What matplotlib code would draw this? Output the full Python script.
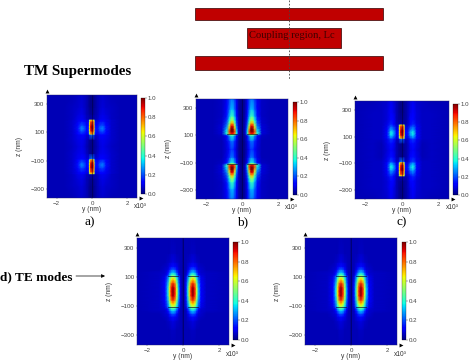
#!/usr/bin/env python3

import numpy as np
import matplotlib
matplotlib.use("Agg")
import matplotlib.pyplot as plt
from matplotlib.patches import Rectangle

W, H = 474, 361

# field maps, one quarter of each panel (y >= 0, z >= 0)
y_tm = [0, .08, .14, .18, .3, .45, .6, .8, 1.1, 1.6, 2.55]
z_tm = [0, 50, 84, 90, 110, 130, 150, 180, 190, 196, 230, 280, 365]
field_a = [
    [.01, .01, .02, .03, .05, .08, .09, .08, .06, .05, .05],
    [.01, .02, .03, .04, .06, .09, .10, .09, .07, .05, .05],
    [.25, .22, .20, .08, .08, .11, .12, .10, .07, .05, .05],
    [.75, .70, .50, .12, .10, .14, .15, .11, .07, .05, .05],
    [.95, .85, .62, .16, .12, .18, .21, .13, .07, .05, .05],
    [1.0, .90, .65, .16, .13, .22, .26, .14, .07, .05, .05],
    [1.0, .90, .65, .14, .12, .18, .20, .13, .07, .05, .05],
    [.85, .80, .60, .10, .09, .13, .14, .10, .07, .05, .05],
    [.70, .65, .50, .08, .08, .11, .12, .10, .07, .05, .05],
    [.04, .04, .04, .05, .06, .09, .10, .09, .06, .05, .05],
    [.02, .02, .03, .04, .05, .08, .09, .08, .06, .05, .05],
    [.01, .01, .02, .03, .05, .07, .08, .07, .06, .05, .05],
    [.01, .01, .02, .03, .05, .06, .07, .06, .05, .05, .05],
]
field_c = [
    [.01, .01, .02, .03, .05, .09, .11, .08, .05, .06, .05],
    [.01, .02, .03, .03, .05, .11, .14, .09, .05, .06, .05],
    [.25, .22, .18, .06, .07, .15, .19, .10, .06, .06, .05],
    [.75, .70, .50, .10, .08, .18, .24, .11, .06, .06, .05],
    [.95, .85, .62, .14, .10, .26, .34, .13, .06, .06, .05],
    [1.0, .90, .65, .14, .11, .30, .38, .13, .06, .06, .05],
    [1.0, .90, .65, .12, .10, .24, .30, .12, .06, .06, .05],
    [.85, .80, .60, .08, .07, .16, .20, .10, .06, .06, .05],
    [.70, .65, .50, .06, .07, .14, .18, .10, .06, .06, .05],
    [.04, .04, .04, .04, .06, .13, .16, .09, .06, .06, .05],
    [.02, .02, .03, .03, .05, .11, .13, .08, .06, .06, .05],
    [.01, .01, .02, .03, .05, .09, .11, .08, .06, .06, .05],
    [.01, .01, .02, .03, .05, .08, .10, .07, .06, .05, .05],
]

y_b = [0, .1, .2, .3, .4, .5, .6, .7, .85, 1.1, 1.6, 2.55]
z_b = [0, 60, 100, 108, 115, 130, 150, 170, 190, 210, 240, 290, 365]
field_b = [
    [.00, .01, .03, .07, .13, .17, .17, .13, .08, .05, .05, .05],
    [.00, .01, .04, .09, .17, .24, .24, .17, .09, .05, .05, .05],
    [.01, .02, .05, .13, .28, .38, .38, .28, .13, .06, .05, .05],
    [.01, .02, .06, .28, .58, .66, .66, .58, .28, .07, .05, .05],
    [.01, .03, .08, .40, .78, .90, .90, .78, .40, .08, .05, .05],
    [.01, .03, .08, .36, .84, 1.0, 1.0, .84, .36, .08, .05, .05],
    [.01, .03, .08, .30, .72, 1.0, 1.0, .72, .30, .08, .05, .05],
    [.01, .03, .07, .24, .58, .90, .90, .58, .24, .08, .05, .05],
    [.01, .03, .07, .20, .46, .72, .72, .46, .20, .07, .05, .05],
    [.01, .02, .06, .17, .38, .56, .56, .38, .17, .07, .05, .05],
    [.01, .02, .06, .14, .30, .42, .42, .30, .14, .06, .05, .05],
    [.01, .02, .05, .12, .23, .31, .31, .23, .12, .06, .05, .05],
    [.01, .02, .05, .10, .18, .23, .23, .18, .10, .06, .05, .05],
]

y_te = [0, .06, .15, .25, .35, .45, .55, .65, .75, .85, 1, 1.3, 2.55]
z_te = [0, 30, 60, 80, 95, 105, 115, 130, 150, 170, 200, 260, 365]
field_d = [
    [.02, .05, .10, .32, .62, .90, 1.0, .90, .62, .32, .12, .06, .05],
    [.02, .05, .10, .31, .60, .88, .98, .88, .60, .31, .12, .06, .05],
    [.02, .05, .09, .27, .52, .77, .85, .77, .52, .27, .11, .06, .05],
    [.02, .05, .08, .24, .45, .65, .72, .65, .45, .24, .10, .06, .05],
    [.02, .05, .08, .22, .40, .56, .62, .56, .40, .22, .10, .06, .05],
    [.02, .05, .07, .20, .35, .50, .55, .50, .35, .20, .09, .06, .05],
    [.02, .05, .06, .14, .28, .41, .45, .41, .28, .14, .08, .06, .05],
    [.02, .05, .05, .11, .21, .30, .33, .30, .21, .11, .07, .06, .05],
    [.02, .05, .05, .08, .14, .20, .22, .20, .14, .08, .07, .05, .05],
    [.02, .05, .05, .07, .10, .13, .14, .13, .10, .07, .06, .05, .05],
    [.02, .05, .05, .06, .07, .08, .09, .08, .07, .06, .05, .05, .05],
    [.02, .05, .05, .05, .05, .06, .06, .06, .05, .05, .05, .05, .05],
    [.02, .05, .05, .05, .05, .05, .05, .05, .05, .05, .05, .05, .05],
]
field_e = [
    [.02, .05, .10, .31, .60, .89, 1.0, .90, .63, .33, .12, .06, .05],
    [.02, .05, .10, .30, .58, .87, .98, .88, .61, .32, .12, .06, .05],
    [.02, .05, .09, .26, .51, .76, .85, .77, .53, .27, .11, .06, .05],
    [.02, .05, .08, .23, .44, .64, .72, .65, .45, .24, .10, .06, .05],
    [.02, .05, .08, .21, .39, .55, .62, .56, .40, .22, .10, .06, .05],
    [.02, .05, .07, .19, .34, .49, .55, .50, .35, .20, .09, .06, .05],
    [.02, .05, .06, .14, .27, .40, .45, .41, .28, .14, .08, .06, .05],
    [.02, .05, .05, .11, .20, .30, .33, .30, .21, .11, .07, .06, .05],
    [.02, .05, .05, .08, .14, .20, .22, .20, .14, .08, .07, .05, .05],
    [.02, .05, .05, .07, .10, .13, .14, .13, .10, .07, .06, .05, .05],
    [.02, .05, .05, .06, .07, .08, .09, .08, .07, .06, .05, .05, .05],
    [.02, .05, .05, .05, .05, .06, .06, .06, .05, .05, .05, .05, .05],
    [.02, .05, .05, .05, .05, .05, .05, .05, .05, .05, .05, .05, .05],
]

y_ticks = [-2, 0, 2]
z_ticks = [-300, -100, 100, 300]
cb_ticks = [0.0, 0.2, 0.4, 0.6, 0.8, 1.0]


def pix_axes(fig, x0, y0, x1, y1, **kw):
    return fig.add_axes([x0 / W, 1 - y1 / H, (x1 - x0) / W, (y1 - y0) / H], **kw)


def mirror(vals):
    vals = np.array(vals, dtype=float)
    return np.r_[-vals[:0:-1], vals]


def mirror_field(f):
    f = np.array(f, dtype=float)
    f = np.c_[f[:, :0:-1], f]
    return np.r_[f[:0:-1], f]


def panel(fig, box, cbox, y, z, field, edges=False):
    ax = pix_axes(fig, *box)
    mesh = ax.pcolormesh(mirror(y), mirror(z), mirror_field(field), shading="gouraud",
                         cmap="jet", vmin=0, vmax=1, rasterized=True)
    ax.set_xlim(-2.55, 2.55)
    ax.set_ylim(-365, 365)
    ax.set_xticks(y_ticks)
    ax.set_yticks(z_ticks)
    ax.tick_params(labelsize=4.4, length=1, width=0.3, pad=1, labelcolor="#444444", color="#444444")
    ax.set_xlabel("y (nm)", fontsize=4.8, labelpad=0.2, color="#333333")
    ax.set_ylabel("z (nm)", fontsize=4.8, color="#333333")
    ax.yaxis.set_label_coords(-24 / (box[2] - box[0]), 0.5)
    ax.axvline(0, color="#000033", lw=0.5, alpha=0.6)
    if edges:
        for s in (-1, 1):
            for z_edge in (-108, 108):
                ax.plot([s * 0.28, s * 0.85], [z_edge, z_edge], color="#101030", lw=0.5)
    for side in ax.spines.values():
        side.set_linewidth(0.3)
        side.set_color("#222266")
    ax.plot(0, 1.04, "^", transform=ax.transAxes, clip_on=False, ms=2.8, color="k", mew=0)
    ax.plot(1.04, 0, ">", transform=ax.transAxes, clip_on=False, ms=2.8, color="k", mew=0)
    ax.text(0.97, -0.085, "x10\u00b3", transform=ax.transAxes, fontsize=4.8, ha="left", va="center", color="#333333")

    cax = pix_axes(fig, *cbox)
    cb = fig.colorbar(mesh, cax=cax, ticks=cb_ticks)
    cb.ax.tick_params(labelsize=4.4, length=1.2, width=0.3, pad=0.8, labelcolor="#444444", color="#444444")
    cb.ax.set_yticklabels([f"{t:.1f}" for t in cb_ticks])
    cb.outline.set_linewidth(0.2)


def main():
    plt.rcParams["font.family"] = ["Liberation Sans", "DejaVu Sans"]
    fig = plt.figure(figsize=(W / 100, H / 100), dpi=100)

    # overlay in pixel coordinates for the sketch at the top and the captions
    bg = fig.add_axes([0, 0, 1, 1])
    bg.set_xlim(0, W)
    bg.set_ylim(H, 0)
    bg.axis("off")
    red = "#c00000"
    for x0, y0, x1, y1 in [(195, 8, 383, 20), (247, 28, 341, 48), (195, 56, 383, 70)]:
        bg.add_patch(Rectangle((x0, y0), x1 - x0, y1 - y0, fc=red, ec="#300000", lw=0.5))
    bg.plot([289, 289], [0, 79], color="#444444", lw=0.6, ls=(0, (2, 2)))
    serif = ["Liberation Serif", "DejaVu Serif"]
    bg.text(292, 36, "Coupling region, Lc", family=serif, fontsize=7.6, color="#400000", ha="center", va="center")
    bg.text(24, 71, "TM Supermodes", family=serif, fontsize=10.8, weight="bold", ha="left", va="center")
    bg.text(0, 277, "d) TE modes", family=serif, fontsize=9.5, weight="bold", ha="left", va="center")
    bg.annotate("", xy=(105, 276), xytext=(76, 276),
                arrowprops=dict(arrowstyle="-|>", lw=0.5, color="k", mutation_scale=5, shrinkA=0, shrinkB=0))
    for x, label in [(90, "a)"), (243, "b)"), (402, "c)")]:
        bg.text(x, 222, label, family=serif, fontsize=9.5, ha="center", va="center")

    panel(fig, (47, 95, 137, 198), (141, 98, 145, 194), y_tm, z_tm, field_a)
    panel(fig, (196, 99, 288, 199), (293, 102, 297, 195), y_b, z_b, field_b, edges=True)
    panel(fig, (355, 101, 449, 199), (453, 104, 458, 195), y_tm, z_tm, field_c)
    panel(fig, (137, 238, 229, 345), (233, 242, 238, 340), y_te, z_te, field_d, edges=True)
    panel(fig, (305, 238, 397, 345), (402, 242, 406, 340), y_te, z_te, field_e, edges=True)

    plt.savefig("out.png", dpi=100)


if __name__ == "__main__":
    main()
